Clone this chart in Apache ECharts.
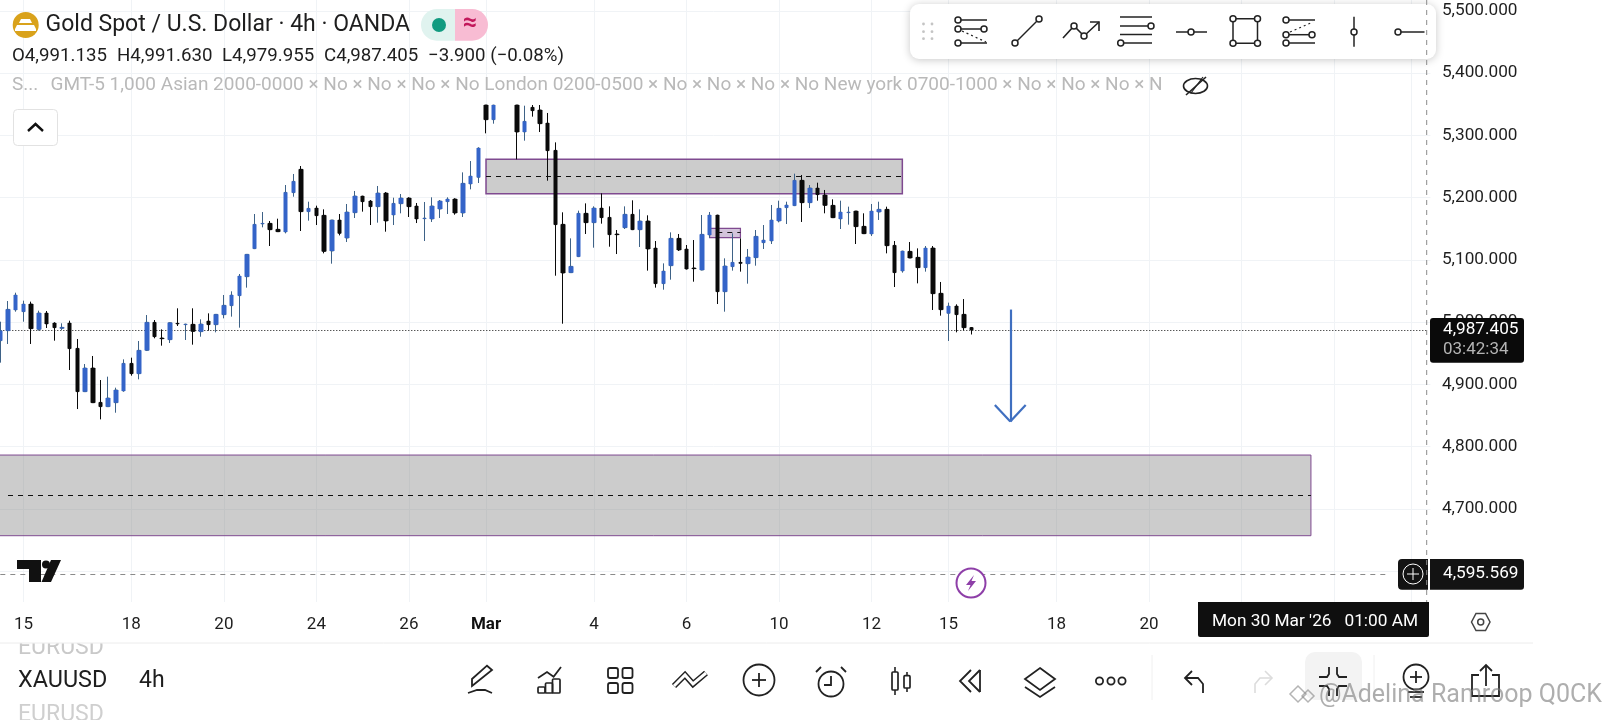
<!DOCTYPE html>
<html><head><meta charset="utf-8">
<style>html,body{margin:0;padding:0;background:#fff;overflow:hidden}#c{position:absolute;left:-4px;top:0;width:1616px;height:720px}</style>
<script src="https://cdn.jsdelivr.net/npm/echarts@6/dist/echarts.min.js"></script></head>
<body><div id="c"></div><script>
const opens=[4970,4986.1,5019.3,5016.6,5028.9,4988.2,5014.5,4998.4,4989.8,4998.4,4957.7,4888.1,4926.1,4870.9,4864,4870.4,4889.2,4933.6,4917,4954.5,4999.5,4974.3,4971.6,4997.9,4995.7,4996.3,4984.5,5001.6,4995.7,5011.8,5026.2,5042.3,5072.8,5117.8,5157.4,5158.5,5148.9,5144.6,5207.8,5245.3,5177.3,5183.1,5171.4,5114.1,5163.9,5134.9,5175.6,5202.4,5194.4,5185.3,5207.2,5171.9,5190.1,5199.2,5186.4,5166,5165.5,5181.5,5193.3,5197.6,5175.1,5221.7,5232.4,5348.6,5325,null,null,5348.6,5305.2,5344.9,5340.6,5319.7,5275.8,5156.9,5079.3,5105,5174.6,5159.6,5183.1,5168.1,5141.4,5151.5,5173,5148.3,5162.3,5118.9,5061.6,5090.5,5134.4,5117.3,5086.8,5083.5,5139.8,5171.9,5048.7,5088.9,5095.9,5093.7,5103.4,5127.4,5130.1,5162.3,5183.7,5186.9,5227.6,5191.7,5215.3,5204,5187.4,5165.5,5175.6,5178.3,5153.7,5141.4,5176.7,5181,5123.2,5081.9,5113.5,5103.9,5087.3,5118.9,5046.1,5013.9,5025.7,5012.3,4991.135];
const highs=[5000.5,5033.7,5047.1,5034.3,5032.7,5018.2,5017.7,4999.5,4997.9,5002.1,4972.7,4932.5,4945.4,4906.8,4912.2,4894.5,4940,4942.7,4969.5,5011.2,5003.2,4988.2,4999.5,5022,4996.8,5022,5004.3,5013.9,5012.3,5043.4,5049.3,5077.1,5108.7,5173.5,5176.7,5162.3,5166,5220.1,5237.8,5250.6,5193.3,5186.9,5181,5163.9,5173.5,5189.6,5210.5,5202.4,5196,5218.5,5208.8,5199.7,5205.6,5200.3,5191.2,5192.8,5200.3,5196,5200.3,5198.7,5240.4,5258.6,5280.6,5348.6,5348.6,null,null,5348.6,5347.5,5348.6,5348.6,5335.8,5288.6,5176.2,5134.4,5178.9,5190.6,5185.8,5206.7,5185.8,5147.8,5185.8,5195.5,5181,5171.4,5130.1,5094.2,5144,5141.4,5123.7,5131.7,5171.9,5176.7,5171.9,5102.3,5142.4,5134.4,5117.3,5147.8,5155.8,5188,5194.9,5193.3,5238.3,5236.2,5220.1,5223.8,5212.1,5197.1,5194.9,5185.3,5178.3,5174.6,5189.6,5193.3,5185.3,5130.1,5114.1,5128.5,5118.3,5122.1,5122.1,5064.3,5031.1,5028.4,5036.9,4991.63];
const lows=[4934.7,4964.7,5016.6,5000.5,4964.7,4986.1,4990.4,4970,4987.1,4922.9,4860.2,4888.1,4870.4,4843.6,4864,4854.3,4888.1,4913.8,4907.9,4953.4,4973.8,4962,4966.3,4993.6,4971.1,4963.6,4976.4,4986.1,4983.4,5005.9,5008.6,4990.9,5055.2,5117.8,5152.1,5122.1,5145.1,5142.4,5201.3,5146.2,5162.8,5155.8,5110.3,5093.7,5139.2,5128.5,5167.1,5177.3,5155.8,5159.6,5145.1,5155.8,5174.6,5168.7,5159,5130.1,5160.7,5167.1,5173.5,5172.4,5168.7,5213.1,5223.3,5303.1,5318.6,null,null,5261.3,5291.3,5329.9,5305.2,5227,5074.4,4997.3,5079.3,5105,5141.4,5119.4,5158,5121,5109.2,5149.4,5147.8,5120.5,5082.5,5055.2,5051.9,5068,5114.1,5084.6,5064.8,5083,5135.5,5028.9,5016.6,5082.5,5080.9,5061.6,5090.5,5117.3,5125.3,5160.1,5157.4,5186.9,5160.7,5183.1,5194.9,5174.6,5167.1,5149.4,5156.4,5125.3,5141.4,5138.2,5163.9,5110.3,5056.2,5079.3,5102.8,5062.1,5080.9,5019.3,5010.2,4969.5,4983.4,4986.6,4979.955];
const closes=[4986.1,5020.3,5043.4,5028.9,4989.3,5014.5,4996.8,4990.9,4991.4,4957.2,4888.1,4926.1,4870.4,4864,4877.9,4890.8,4933.6,4917,4954.5,4999.5,4976.4,4973.2,4998.9,4996.8,4996.8,4985,4996.8,4995.7,5012.3,5026.8,5043.4,5073.9,5108.7,5156.9,5158.5,5148.3,5145.1,5208.3,5226,5177.3,5182.6,5170.8,5113.5,5163.9,5142.4,5176.7,5202.4,5193.3,5185.3,5207.2,5162.3,5190.6,5199.2,5185.3,5165.5,5167.1,5186.4,5194.4,5197.6,5175.1,5222.8,5234.5,5279.5,5325,5348.6,null,null,5305.2,5322.4,5339.5,5318.6,5275.2,5156.4,5078.7,5089.4,5174.6,5159.6,5183.1,5167.6,5140.3,5140.3,5173,5148.3,5162.3,5117.3,5061.6,5081.9,5134.4,5115.7,5085.1,5085.7,5140.8,5171.9,5048.7,5090,5095.9,5094.2,5104.4,5137.6,5131.7,5163.9,5182.6,5188,5227.6,5191.7,5215.3,5204.6,5187.4,5167.6,5176.7,5176.7,5153.2,5141.9,5178.3,5181,5122.6,5079.3,5114.1,5102.8,5087.3,5118.9,5045.5,5019.8,5025.7,5011.8,4990.9,4987.405];
const slotCount=186;
const xTickSlots=[3,17,29,41,53,63,77,89,101,113,123,137,149,161,173,183];
const xTickLabels=['15','18','20','24','26','Mar','4','6','10','12','15','18','20','','',''];
const yTickValues=[4600,4700,4800,4900,5000,5100,5200,5300,5400,5500];
const lastPrice=4987.405, alertPrice=4595.569;
const upperZone=[63,117,5261.4,5206.1,5233.7];
const smallZone=[92,96,5150.5,5135.4,5144.1];
const lowerZone=[170,4786.3,4656.7,4721.6];
const arrowTop=5020, arrowTip=4840, arrowWing=4866.6, arrowSlots=[129,131,133];

const categories=Array.from({length:slotCount},(_,i)=>String(i));
const rows=categories.map((_,i)=>i<opens.length&&opens[i]!=null?i:-1);
const wickData=rows.map(i=>i<0?['-','-','-','-']:[opens[i],closes[i],lows[i],highs[i]]);
const bodyData=rows.map(i=>i<0?['-','-','-','-']:[opens[i],closes[i],Math.min(opens[i],closes[i]),Math.max(opens[i],closes[i])]);

const F='Roboto, sans-serif', INK='#1e1e1e', STROKE='#222';
const g=[];
const L=(x1,y1,x2,y2,s={})=>g.push({type:'line',z:100,silent:true,shape:{x1,y1,x2,y2},style:Object.assign({stroke:STROKE,lineWidth:1.5},s)});
const PL=(points,s={})=>g.push({type:'polyline',z:100,silent:true,shape:{points},style:Object.assign({stroke:STROKE,lineWidth:1.6,fill:'none'},s)});
const PG=(points,s={})=>g.push({type:'polygon',z:100,silent:true,shape:{points},style:Object.assign({stroke:STROKE,lineWidth:1.6,fill:'none'},s)});
const C=(cx,cy,r,s={},z=101)=>g.push({type:'circle',z,silent:true,shape:{cx,cy,r},style:Object.assign({stroke:STROKE,lineWidth:1.5,fill:'#fff'},s)});
const R=(x,y,w,h,rr,s={})=>g.push({type:'rect',z:99,silent:true,shape:{x,y,width:w,height:h,r:rr},style:Object.assign({stroke:'none',fill:'#000'},s)});
const T=(text,x,y,font,fill=INK,align='left')=>g.push({type:'text',z:102,silent:true,x,y,style:{text,font:font+' '+F,fill,textAlign:align,textVerticalAlign:'middle'}});
const OPEN={fill:'none',lineWidth:1.8};

// crosshair boundary
L(1426.7,0,1426.7,602,{stroke:'#8a8a8a',lineWidth:1,lineDash:[5,5]});
// header
C(25.7,25,13,{fill:'#d9a21b',stroke:'none'},98);
PG([[21,19],[30,19],[32,23],[19,23]],{fill:'#fff',stroke:'none'});
PG([[15,31],[36,31],[36,29],[34,25],[17,25],[15,29]],{fill:'#fff',stroke:'none'});
T('Gold Spot / U.S. Dollar · 4h · OANDA',45.5,25.5,'23px');
R(421,9,34,31.7,[16,0,0,16],{fill:'#e0f3ef'});
R(455,9,33,31.7,[0,16,16,0],{fill:'#f8bcd3'});
C(439,25,7,{fill:'#119b80',stroke:'none'});
T('≈',470,24,'bold 25px','#c2185b','center');
T('O4,991.135',12,56,'18.7px');
T('H4,991.630',117,56,'18.7px');
T('L4,979.955',222,56,'18.7px');
T('C4,987.405',324,56,'18.7px');
T('−3.900 (−0.08%)',428,56,'18.7px');
T('S...',12,85.5,'19px','#b9b9b9');
T('GMT-5 1,000 Asian 2000-0000 × No × No × No × No London 0200-0500 × No × No × No × No New york 0700-1000 × No × No × No × N',50.5,85.5,'19px','#b9b9b9');
g.push({type:'ellipse',z:100,silent:true,shape:{cx:1195.5,cy:86,rx:12,ry:7.5},style:{stroke:STROKE,fill:'none',lineWidth:1.6}});
L(1206,77,1186,95,{lineWidth:1.6});L(1203,77,1191,93,{lineWidth:1.2});
R(13.5,109.5,44,36,4,{fill:'#fff',stroke:'#e2e2e2',lineWidth:1});
PL([[28,131],[35.5,124],[43,131]],{lineWidth:2.4,stroke:'#111'});
// toolbar
R(910,4,526,55,9,{fill:'#fff',shadowBlur:8,shadowColor:'rgba(0,0,0,0.22)',shadowOffsetY:1});
[923.5,932].forEach(x=>[24,31.7,38.7].forEach(y=>C(x,y,1.4,{fill:'#c4c4c4',stroke:'none'})));
L(958,20,987,20);L(958,29,984,29);L(958,43,987,43);
L(962,31,986,42,{lineWidth:1.2,lineDash:[2,3]});
C(958,20,3);C(958,29,3);C(984,29,3);C(958,43,3);
L(1015,43,1039,19);C(1015,43,3);C(1039,19,3);
PL([[1063,38],[1074,26],[1084,36],[1099,22]]);PL([[1090,22],[1099,22],[1099,31]]);C(1074,26,3);C(1084,36,3);
L(1120,17,1152,17);L(1120,26,1152,26);L(1120,34.5,1152,34.5);L(1120,43,1152,43);C(1151,26,3);C(1120.7,43,3);
L(1176,32,1207,32);C(1191,32,3);
R(1233,18.7,24.5,24.6,0,{fill:'none',stroke:STROKE,lineWidth:1.5});
C(1233,18.7,3);C(1257.5,18.7,3);C(1233,43.3,3);C(1257.5,43.3,3);
L(1286,20,1315,20);L(1286,34.7,1312,34.7);L(1286,43,1315,43);
L(1290,32,1313,22,{lineWidth:1.2,lineDash:[2,3]});
C(1286,20,3);C(1286,34.7,3);C(1312,34.7,3);C(1286,43,3);
L(1354,16.7,1354,46.7);C(1354,32,3);
L(1401,32,1424.5,32);C(1398,32,3);
// TV logo
PG([[17,560],[41,560],[41,582],[29,582],[29,569],[17,569]],{fill:'#111',stroke:'none'});
C(46,564.5,4,{fill:'#111',stroke:'none'});
PG([[51,560],[61,560],[51,582],[41.5,582]],{fill:'#111',stroke:'none'});
// bolt
C(971,583,14.5,{stroke:'#8e3fa8',lineWidth:2},98);
PG([[974,575],[966,585],[970.5,585],[968,591],[976,581],[971.5,581]],{fill:'#8e3fa8',stroke:'none'});
// price tags
R(1430,318,94,44.7,3,{fill:'#0a0a0a'});
T('4,987.405',1443,329.5,'17.2px','#fff');
T('03:42:34',1443,349.5,'17px','#b4b4b4');
R(1398,559,30,30.7,[4,0,0,4],{fill:'#131313'});
R(1430,559,94,30.7,[0,3,3,0],{fill:'#131313'});
C(1413,574,10,{stroke:'#fff',lineWidth:1,fill:'none'});
L(1407,574,1419,574,{stroke:'#fff',lineWidth:1});L(1413,568,1413,580,{stroke:'#fff',lineWidth:1});
T('4,595.569',1443,573.5,'17.2px','#fff');
R(1198,602,231,35,[0,0,2,2],{fill:'#0f0f0f'});
T("Mon 30 Mar '26   01:00 AM",1212,621.5,'17.3px','#fff');
PG([[1471.5,622],[1476,613.5],[1485.5,613.5],[1490,622],[1485.5,630.5],[1476,630.5]],{stroke:'#444',lineWidth:1.5});
C(1480.7,622,3,{stroke:'#444',fill:'none'});
// bottom bar
L(0,643,1533,643,{stroke:'#ececec',lineWidth:1});
g.push({type:'text',z:102,silent:true,x:18,y:648,style:{text:'EURUSD',font:'23px '+F,fill:'#c9c9c9',textVerticalAlign:'middle'},clipPath:{type:'rect',shape:{x:-20,y:-4.5,width:130,height:30}}});
T('XAUUSD',18,681.5,'23.4px');T('4h',139,681.5,'23px');
T('EURUSD',18,715,'23px','#cfcfcf');
// pencil
PG([[472,686],[492,670],[487,665.7],[472,679]],{lineWidth:1.8});
PL([[468,693],[477,690],[485,690],[492,693]],{lineWidth:1.8});
// chart
PL([[538,678],[547,672],[553.6,676.7],[561,667]],{lineWidth:1.8});
R(538,687,7,6,1,{fill:'none',stroke:STROKE,lineWidth:1.7});R(545.5,683,7,10,1,{fill:'none',stroke:STROKE,lineWidth:1.7});R(552.5,679,7.5,14,1,{fill:'none',stroke:STROKE,lineWidth:1.7});
// grid
[[608,668],[622.5,668],[608,683],[622.5,683]].forEach(p=>R(p[0],p[1],10,10,2,{fill:'none',stroke:STROKE,lineWidth:1.8}));
// double chevron
PL([[674,686],[685,675],[693,684],[706,673]],{lineWidth:6,stroke:STROKE});
g.push({type:'polyline',z:101,silent:true,shape:{points:[[674,686],[685,675],[693,684],[706,673]]},style:{lineWidth:3,stroke:'#fff',fill:'none'}});
// plus
C(759,680,15.5,OPEN);L(752,680,766,680,{lineWidth:1.8});L(759,673,759,687,{lineWidth:1.8});
// alarm
C(831,684,12.5,OPEN);PL([[831,676],[831,685],[824,685]],{lineWidth:1.8});L(816,672,821,667,{lineWidth:1.8});L(846,672,841,667,{lineWidth:1.8});
// candles
L(895,667,895,672,{lineWidth:1.6});L(895,690,895,695,{lineWidth:1.6});L(907,672,907,675.7,{lineWidth:1.6});L(907,688,907,692,{lineWidth:1.6});
R(892,672,6,18,1,{fill:'#fff',stroke:STROKE,lineWidth:1.7});R(904,675.7,6,12.3,1,{fill:'#fff',stroke:STROKE,lineWidth:1.7});
// rewind
PL([[971,670],[960,681],[971,692]],{lineWidth:1.8});PL([[980,670],[969,681],[980,692]],{lineWidth:1.8});L(980,670,980,692,{lineWidth:1.8});
// layers
PG([[1040,668],[1055,679],[1040,690],[1025,679]],{lineWidth:1.8});PL([[1025,687],[1040,697],[1055,687]],{lineWidth:1.8});
// dots
C(1099.5,681,3.6,OPEN);C(1111,681,3.6,OPEN);C(1122,681,3.6,OPEN);
L(1152,655,1152,700,{stroke:'#f0f0f0',lineWidth:1});L(1374,655,1374,700,{stroke:'#f0f0f0',lineWidth:1});
// undo / redo
PL([[1203,693],[1203,684],[1198,678],[1186,678]],{lineWidth:1.8});PL([[1192,671],[1185,678],[1192,685]],{lineWidth:1.8});
PL([[1255,693],[1255,684],[1260,678],[1271,678]],{lineWidth:1.6,stroke:'#dcdcdc'});PL([[1265,671],[1272,678],[1265,685]],{lineWidth:1.6,stroke:'#dcdcdc'});
// collapse
R(1305,652,57,48,10,{fill:'#f3f3f3'});
PL([[1319,677],[1327,677],[1329,674],[1329,667]],{lineWidth:1.8});PL([[1347,677],[1339,677],[1337,674],[1337,667]],{lineWidth:1.8});
PL([[1319,686],[1327,686],[1329,689],[1329,696]],{lineWidth:1.8});PL([[1347,686],[1339,686],[1337,689],[1337,696]],{lineWidth:1.8});
// bulb
C(1416,677,12.5,OPEN);L(1410,677,1422,677,{lineWidth:1.8});L(1416,671,1416,683,{lineWidth:1.8});L(1408,692,1424,692,{lineWidth:1.8});L(1410,697,1422,697,{lineWidth:1.8});
// share
PL([[1479,675],[1472,675],[1472,696],[1499,696],[1499,675],[1492,675]],{lineWidth:1.8});L(1486,665,1486,686,{lineWidth:1.8});PL([[1480,671],[1486,665],[1492,671]],{lineWidth:1.8});
// watermark
PG([[1298,686],[1306,694],[1298,702],[1290,694]],{stroke:'rgba(130,130,130,.6)',lineWidth:1.5});
PG([[1308,690],[1314,696],[1308,702],[1302,696]],{stroke:'rgba(130,130,130,.6)',lineWidth:1.5});
T('@Adelina Ramroop Q0CK',1319,696,'25px','rgba(125,125,125,0.62)');

const DARK='#0a0a0a', BLUE='#3464c8', WICKBLUE='#3e6287', PURPLE='#7f4a90';
const dash=(x1,x2,y)=>[{coord:[String(x1),y]},{coord:[String(x2),y]}];
const arrow=(x1,y1,x2,y2)=>[{coord:[String(x1),y1],lineStyle:{color:'#3f6fc0',width:2.2,type:'solid'}},{coord:[String(x2),y2]}];

const chart=echarts.init(document.getElementById('c'),null,{renderer:'canvas'});
chart.setOption({
  animation:false,
  backgroundColor:'#fff',
  grid:{left:0.45,top:0,width:1434,height:602,containLabel:false},
  xAxis:{type:'category',data:categories,boundaryGap:true,
    axisLine:{show:false},axisTick:{show:false},
    axisLabel:{show:true,interval:(i)=>xTickSlots.includes(i),margin:14,
      formatter:(v,i)=>{const k=xTickSlots.indexOf(Number(v));const t=k<0?'':xTickLabels[k];return t==='Mar'?'{b|Mar}':t;},
      color:INK,fontFamily:F,fontSize:17,rich:{b:{fontWeight:'bold',fontSize:17,fontFamily:F,color:'#111'}}},
    splitLine:{show:true,alignWithLabel:true,interval:(i)=>xTickSlots.includes(i),lineStyle:{color:'#f0f3f6',width:1}}},
  yAxis:{type:'value',position:'right',min:4550.2,max:5517.3,scale:true,
    axisLine:{show:false},
    axisTick:{show:false,customValues:yTickValues},
    axisLabel:{customValues:yTickValues,margin:11.5,color:INK,fontFamily:F,fontSize:17.2,padding:[0,0,4,0],
      formatter:v=>Number(v).toLocaleString('en-US',{minimumFractionDigits:3,maximumFractionDigits:3})},
    splitLine:{show:true,lineStyle:{color:'#f0f3f6',width:1}}},
  graphic:{elements:[
    {type:'rect',z:90,silent:true,shape:{x:0,y:643,width:1616,height:77},style:{fill:'#fff'}},
    {type:'group',x:4,y:0,silent:true,z:100,children:g}
  ]},
  series:[
    {type:'candlestick',name:'wicks',data:wickData,barWidth:3,silent:true,
      itemStyle:{color:WICKBLUE,color0:DARK,borderColor:WICKBLUE,borderColor0:DARK,borderWidth:1},
      markArea:{silent:true,z:1,data:[
        [{coord:[String(upperZone[0]),upperZone[2]],itemStyle:{color:'rgba(128,128,128,0.4)',borderColor:PURPLE,borderWidth:1.5}},{coord:[String(upperZone[1]),upperZone[3]]}],
        [{coord:[String(smallZone[0]),smallZone[2]],itemStyle:{color:'rgba(140,100,160,0.38)',borderColor:PURPLE,borderWidth:1.2}},{coord:[String(smallZone[1]),smallZone[3]]}],
        [{yAxis:lowerZone[1],itemStyle:{color:'rgba(128,128,128,0.4)',borderColor:PURPLE,borderWidth:1}},{xAxis:String(lowerZone[0]),yAxis:lowerZone[2]}]
      ]},
      markLine:{silent:true,symbol:'none',z:1,label:{show:false},animation:false,lineStyle:{color:'#111',type:[5,5],width:1},data:[
        dash(upperZone[0],upperZone[1],upperZone[4]),
        dash(smallZone[0]+1,smallZone[1],smallZone[4]),
        dash(1,lowerZone[0],lowerZone[3]),
        [{coord:['0',lastPrice],lineStyle:{color:'#111',type:[1,2],width:1}},{coord:['185',lastPrice]}],
        [{coord:['0',alertPrice],lineStyle:{color:'#8a8a8a',type:[5,5],width:1}},{coord:['180',alertPrice]}],
        arrow(arrowSlots[1],arrowTop,arrowSlots[1],arrowTip),
        arrow(arrowSlots[0],arrowWing,arrowSlots[1],arrowTip),
        arrow(arrowSlots[2],arrowWing,arrowSlots[1],arrowTip)
      ]}},
    {type:'candlestick',name:'bodies',data:bodyData,barWidth:5,silent:true,
      itemStyle:{color:BLUE,color0:DARK,borderColor:BLUE,borderColor0:DARK,borderWidth:0}}
  ]
});
</script></body></html>
